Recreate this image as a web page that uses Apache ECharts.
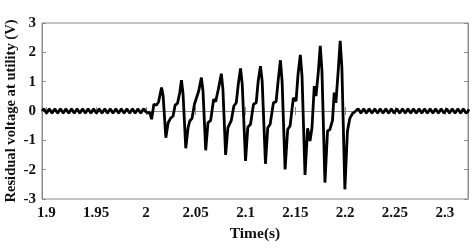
<!DOCTYPE html>
<html>
<head>
<meta charset="utf-8">
<script src="https://cdn.jsdelivr.net/npm/echarts@6/dist/echarts.min.js"></script>
<style>
  html, body { margin: 0; padding: 0; background: #fff; }
  #main { width: 474px; height: 249px; }
</style>
</head>
<body>
<div id="main"></div>
<script>
// ripple before the fault
var preTime = [1.8960, 1.8975, 1.9003, 1.9031, 1.9058, 1.9086, 1.9114, 1.9142, 1.9170, 1.9197,
    1.9225, 1.9253, 1.9281, 1.9309, 1.9336, 1.9364, 1.9392, 1.9420, 1.9448, 1.9475,
    1.9503, 1.9531, 1.9559, 1.9587, 1.9614, 1.9642, 1.9670, 1.9698, 1.9726, 1.9753,
    1.9781, 1.9809, 1.9837, 1.9865, 1.9892, 1.9920, 1.9948, 1.9976, 2.0004];
var preVolt = [0, 0.06, -0.06, 0.06, -0.06, 0.06, -0.06, 0.06, -0.06, 0.06,
    -0.06, 0.06, -0.06, 0.06, -0.06, 0.06, -0.06, 0.06, -0.06, 0.06,
    -0.06, 0.06, -0.06, 0.06, -0.06, 0.06, -0.06, 0.06, -0.06, 0.06,
    -0.06, 0.06, -0.06, 0.06, -0.06, 0.06, -0.06, 0.06, -0.06];

// fault transient 2.0 - 2.21 s
var faultTime = [2.0004, 2.0040, 2.0057, 2.0080, 2.0107, 2.0127, 2.0140, 2.0157, 2.0173, 2.0200,
    2.0223, 2.0247, 2.0273, 2.0293, 2.0317, 2.0340, 2.0357, 2.0373, 2.0400, 2.0423,
    2.0440, 2.0463, 2.0487, 2.0507, 2.0530, 2.0557, 2.0573, 2.0600, 2.0623, 2.0650,
    2.0680, 2.0700, 2.0727, 2.0757, 2.0773, 2.0800, 2.0823, 2.0857, 2.0883, 2.0907,
    2.0927, 2.0950, 2.0967, 2.1000, 2.1023, 2.1050, 2.1080, 2.1107, 2.1127, 2.1150,
    2.1167, 2.1200, 2.1223, 2.1247, 2.1280, 2.1307, 2.1327, 2.1350, 2.1367, 2.1397,
    2.1423, 2.1447, 2.1480, 2.1507, 2.1527, 2.1550, 2.1567, 2.1597, 2.1623, 2.1647,
    2.1667, 2.1690, 2.1707, 2.1730, 2.1750, 2.1767, 2.1797, 2.1823, 2.1847, 2.1873,
    2.1890, 2.1907, 2.1930, 2.1950, 2.1967, 2.1997, 2.2023, 2.2047, 2.2073, 2.2107];
var faultVolt = [-0.06, -0.06, -0.28, 0.23, 0.20, 0.31, 0.34, 0.80, 0.51, -0.91,
    -0.40, -0.25, -0.17, 0.20, 0.26, 0.63, 1.05, 0.57, -1.27, -0.57,
    -0.34, -0.25, 0.23, 0.28, 0.68, 1.14, 0.68, -1.34, -0.40, -0.32,
    0.40, 0.32, 0.74, 1.27, 0.74, -1.50, -0.57, -0.32, 0.17, 0.28,
    0.91, 1.45, 0.91, -1.70, -0.55, -0.45, 0.23, 0.28, 1.02, 1.53,
    1.02, -1.80, -0.57, -0.45, 0.28, 0.32, 1.02, 1.73, 1.02, -1.99,
    -0.63, -0.51, 0.45, 0.34, 1.25, 1.91, 1.19, -2.18, -0.59, -1.02,
    -0.57, 0.85, 0.51, 1.31, 2.22, 1.36, -2.44, -0.68, -0.63, -0.32,
    0.63, 0.28, 1.36, 2.39, 1.48, -2.67, -0.68, -0.25, -0.09, 0.00];

// ripple after the fault
var postTime = [2.2107, 2.2130, 2.2158, 2.2186, 2.2213, 2.2241, 2.2269, 2.2297, 2.2325, 2.2352,
    2.2380, 2.2408, 2.2436, 2.2464, 2.2491, 2.2519, 2.2547, 2.2575, 2.2603, 2.2630,
    2.2658, 2.2686, 2.2714, 2.2742, 2.2769, 2.2797, 2.2825, 2.2853, 2.2881, 2.2908,
    2.2936, 2.2964, 2.2992, 2.3020, 2.3047, 2.3075, 2.3103, 2.3131, 2.3159, 2.3186,
    2.3214, 2.3242];
var postVolt = [0, 0.06, -0.06, 0.06, -0.06, 0.06, -0.06, 0.06, -0.06, 0.06,
    -0.06, 0.06, -0.06, 0.06, -0.06, 0.06, -0.06, 0.06, -0.06, 0.06,
    -0.06, 0.06, -0.06, 0.06, -0.06, 0.06, -0.06, 0.06, -0.06, 0.06,
    -0.06, 0.06, -0.06, 0.06, -0.06, 0.06, -0.06, 0.06, -0.06, 0.06,
    -0.06, 0.06];

var xTicks = [1.9, 1.95, 2.0, 2.05, 2.1, 2.15, 2.2, 2.25, 2.3];

function pairs(t, v) {
    return t.map(function (x, i) { return [x, v[i]]; });
}

var font = 'Liberation Serif';
var axisColor = '#8c8c8c';

var myChart = echarts.init(document.getElementById('main'));
var lineStyle = { color: '#000', width: 2.8 };
var option = {
    animation: false,
    grid: {
        left: 42, right: 6, top: 23, bottom: 50,
        outerBoundsMode: 'none',
        show: true, borderColor: axisColor, borderWidth: 1
    },
    xAxis: [{
        type: 'value',
        min: 1.8957,
        max: 2.3233,
        name: 'Time(s)',
        nameLocation: 'middle',
        nameGap: 27,
        nameMoveOverlap: false,
        nameTextStyle: { fontFamily: font, fontWeight: 'bold', fontSize: 15.5, color: '#111' },
        axisLine: { lineStyle: { color: axisColor } },
        axisTick: { inside: true, length: 4, customValues: xTicks, lineStyle: { color: axisColor } },
        axisLabel: { customValues: xTicks, margin: 7, fontFamily: font, fontWeight: 'bold', fontSize: 15, color: '#111' },
        splitLine: { show: false }
    }, {
        type: 'value',
        position: 'top',
        min: 1.8957,
        max: 2.3233,
        axisLine: { lineStyle: { color: axisColor } },
        axisTick: { inside: true, length: 4, customValues: xTicks, lineStyle: { color: axisColor } },
        axisLabel: { show: false },
        splitLine: { show: false }
    }],
    yAxis: [{
        type: 'value',
        min: -3,
        max: 3,
        interval: 1,
        name: 'Residual voltage at utility (V)',
        nameLocation: 'middle',
        nameGap: 23,
        nameMoveOverlap: false,
        nameTextStyle: { fontFamily: font, fontWeight: 'bold', fontSize: 14.6, color: '#111' },
        axisLine: { show: true, lineStyle: { color: axisColor } },
        axisTick: { show: true, inside: true, length: 4, lineStyle: { color: axisColor } },
        axisLabel: { margin: 6, fontFamily: font, fontWeight: 'bold', fontSize: 15, color: '#111' },
        splitLine: { show: false }
    }, {
        type: 'value',
        position: 'right',
        min: -3,
        max: 3,
        interval: 1,
        axisLine: { show: true, lineStyle: { color: axisColor } },
        axisTick: { show: true, inside: true, length: 4, lineStyle: { color: axisColor } },
        axisLabel: { show: false },
        splitLine: { show: false }
    }],
    series: [{
        type: 'line',
        data: pairs(preTime, preVolt),
        smooth: true,
        showSymbol: false,
        lineStyle: lineStyle
    }, {
        type: 'line',
        data: pairs(faultTime, faultVolt),
        showSymbol: false,
        lineStyle: lineStyle
    }, {
        type: 'line',
        data: pairs(postTime, postVolt),
        smooth: true,
        showSymbol: false,
        clip: true,
        lineStyle: lineStyle
    }]
};
myChart.setOption(option);
</script>
</body>
</html>
